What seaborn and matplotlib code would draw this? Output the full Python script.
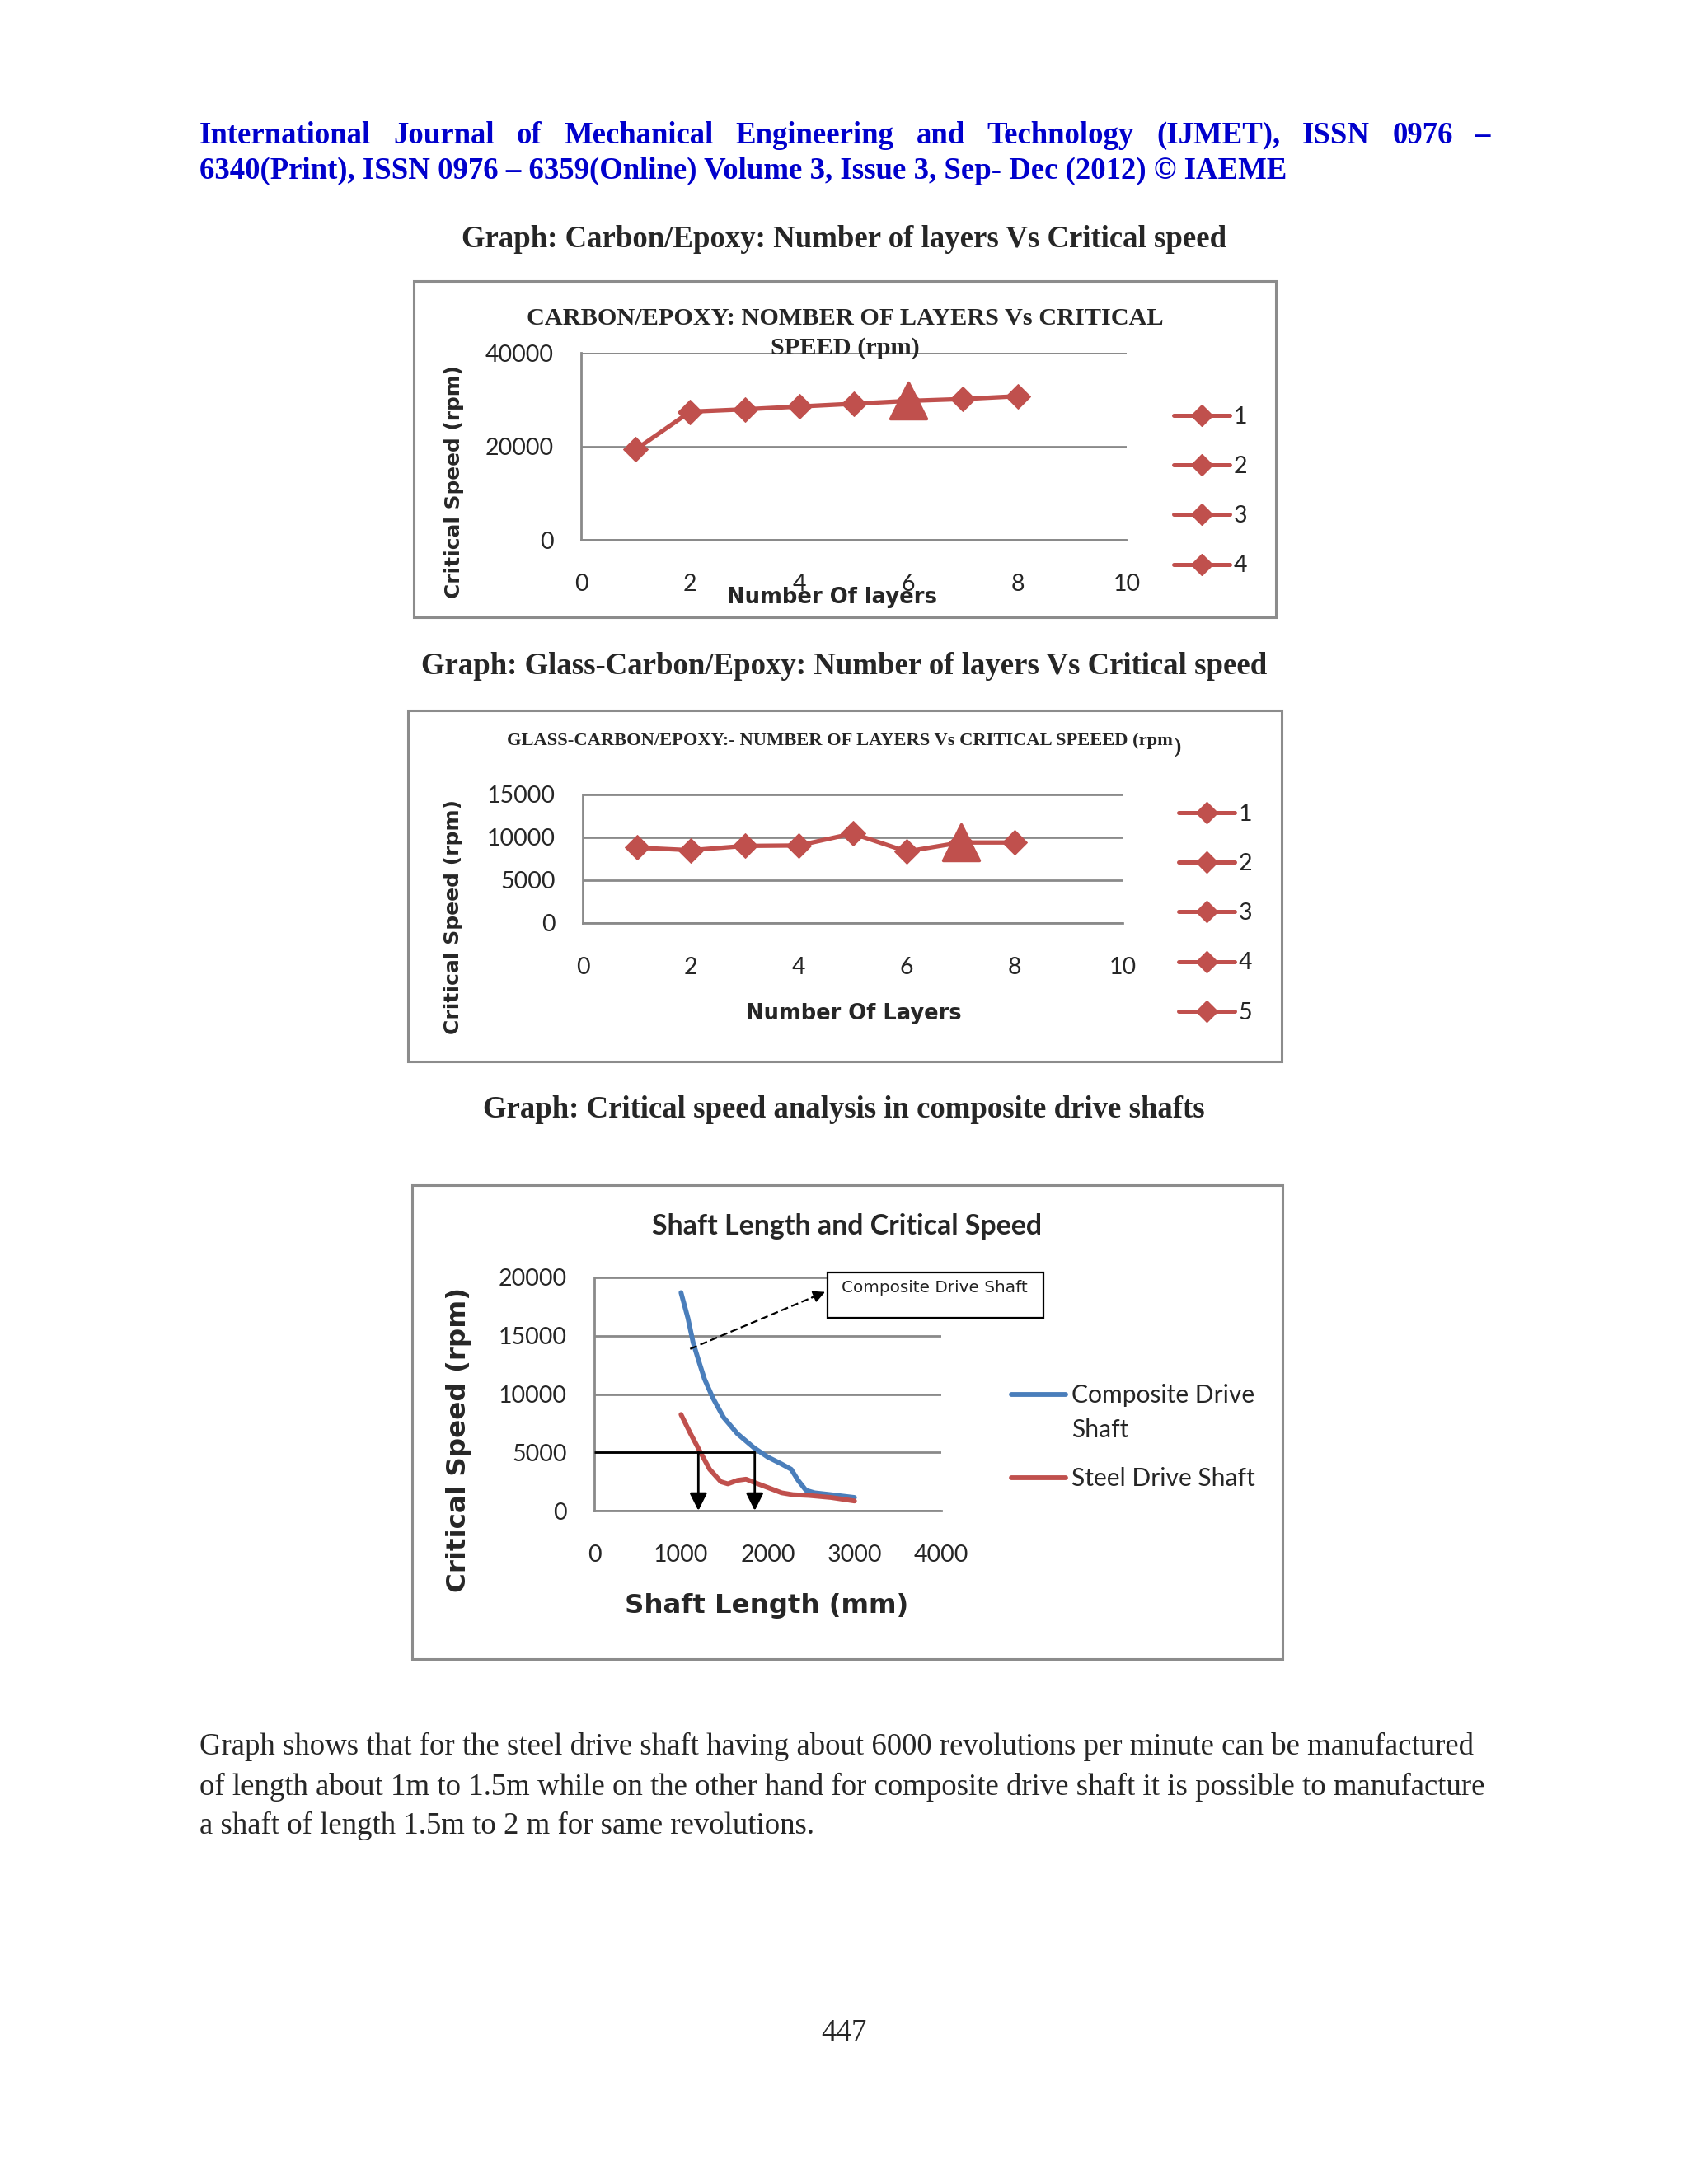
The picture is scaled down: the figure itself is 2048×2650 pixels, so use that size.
import matplotlib.pyplot as plt
import seaborn as sns
from matplotlib.lines import Line2D
from matplotlib.patches import Rectangle

# ---- page text ----
header_line1 = "International Journal of Mechanical Engineering and Technology (IJMET), ISSN 0976 –"
header_line2 = "6340(Print), ISSN 0976 – 6359(Online) Volume 3, Issue 3, Sep- Dec (2012) © IAEME"
caption_1 = "Graph: Carbon/Epoxy: Number of layers Vs Critical speed"
caption_2 = "Graph: Glass-Carbon/Epoxy: Number of layers Vs Critical speed"
caption_3 = "Graph: Critical speed analysis in composite drive shafts"
paragraph = [
    "Graph shows that for the steel drive shaft having about 6000 revolutions per minute can be manufactured",
    "of length about 1m to 1.5m while on the other hand for composite drive shaft it is possible to manufacture",
    "a shaft of length 1.5m to 2 m for same revolutions.",
]
page_number = "447"

# ---- chart 1: carbon/epoxy ----
cf_title = ["CARBON/EPOXY: NOMBER OF LAYERS Vs CRITICAL", "SPEED (rpm)"]
cf_layers = [1, 2, 3, 4, 5, 6, 7, 8]
cf_speed = [19300, 27400, 27900, 28500, 29100, 29700, 30100, 30700]
cf_highlight = 6
cf_legend = ["1", "2", "3", "4"]

# ---- chart 2: glass-carbon/epoxy ----
gc_title = "GLASS-CARBON/EPOXY:- NUMBER OF LAYERS Vs CRITICAL SPEEED (rpm"
gc_layers = [1, 2, 3, 4, 5, 6, 7, 8]
gc_speed = [8800, 8500, 9000, 9050, 10450, 8350, 9400, 9400]
gc_highlight = 7
gc_legend = ["1", "2", "3", "4", "5"]

# ---- chart 3: shaft length vs critical speed ----
comp_length = [1000, 1080, 1140, 1210, 1270, 1365, 1490, 1650, 1840, 2000, 2160, 2270, 2350, 2440, 2540, 2730, 3000]
comp_rpm = [18700, 16500, 14400, 12700, 11300, 9700, 8000, 6600, 5400, 4600, 4000, 3550, 2600, 1750, 1530, 1370, 1130]
steel_length = [1000, 1110, 1210, 1330, 1460, 1540, 1650, 1750, 1870, 2030, 2160, 2290, 2480, 2730, 3000]
steel_rpm = [8250, 6600, 5200, 3550, 2480, 2300, 2600, 2700, 2350, 1900, 1530, 1370, 1300, 1130, 830]
shaft_series = ["Composite Drive\nShaft", "Steel Drive Shaft"]
target_rpm = 5000
target_lengths = [1200, 1850]
callout_text = "Composite Drive Shaft"
callout_from = (1105, 13870)
callout_to = (2660, 18750)

W, H = 2048, 2650
RED = "#c0504d"
BLUE = "#4a7ebb"
GRID = "#8a8a8a"
SERIF = "Liberation Serif"
SANS = "Lato"
BOLD_SANS = "DejaVu Sans"
PAGE_PT = 26.5

sns.set_style("white")
plt.rcParams["font.family"] = [SANS, "DejaVu Sans"]

fig = plt.figure(figsize=(W / 100, H / 100), dpi=100)
fig.patch.set_facecolor("white")


def fxy(x, y):
    return x / W, 1 - y / H


def px_axes(left, top, right, bottom):
    return fig.add_axes([left / W, 1 - bottom / H, (right - left) / W, (bottom - top) / H])


def frame(left, top, right, bottom):
    fig.add_artist(Rectangle(fxy(left, bottom), (right - left) / W, (bottom - top) / H,
                             transform=fig.transFigure, fill=False, ec="#8c8c8c", lw=2.2))


def justified(line, x0, x1, y, **kw):
    words = line.split(" ")
    texts = [fig.text(0, 1 - y / H, w, va="center", ha="left", **kw) for w in words]
    r = fig.canvas.get_renderer()
    widths = [t.get_window_extent(r).width for t in texts]
    gap = (x1 - x0 - sum(widths)) / (len(words) - 1)
    x = x0
    for t, w in zip(texts, widths):
        t.set_x(x / W)
        x += w + gap


def style_axes(ax, xmax, xstep, ymax, ystep):
    ax.set_xlim(0, xmax)
    ax.set_ylim(0, ymax)
    ax.set_xticks(range(0, xmax + 1, xstep))
    ax.set_yticks(range(0, ymax + 1, ystep))
    ax.set_facecolor("none")
    ax.grid(axis="y", color=GRID, lw=2)
    ax.grid(axis="x", visible=False)
    for s in ["top", "right"]:
        ax.spines[s].set_visible(False)
    for s in ["left", "bottom"]:
        ax.spines[s].set_color(GRID)
        ax.spines[s].set_linewidth(2)
    ax.tick_params(axis="x", length=0, labelsize=20.5, pad=29.5)
    ax.tick_params(axis="y", length=0, labelsize=20.5, pad=24)
    ax.set_xlabel("")
    ax.set_ylabel("")


def axis_labels(ax, xlabel, xpos, xsize, ylabel, ypos, ysize):
    ax.set_xlabel(xlabel, fontsize=xsize, fontweight="bold", family=BOLD_SANS, va="center")
    ax.xaxis.set_label_coords(*fxy(*xpos), transform=fig.transFigure)
    ax.set_ylabel(ylabel, fontsize=ysize, fontweight="bold", family=BOLD_SANS, va="center")
    ax.yaxis.set_label_coords(*fxy(*ypos), transform=fig.transFigure)


def layer_legend(ax, labels, x, y_top, spacing):
    handles = [Line2D([], [], color=RED, lw=3.6, marker="D", ms=13) for _ in labels]
    ax.legend(handles, labels, loc="upper left", bbox_to_anchor=fxy(x, y_top),
              bbox_transform=fig.transFigure, frameon=False, fontsize=20.5,
              handlelength=2.4, handletextpad=0.15, labelspacing=spacing,
              borderpad=0, borderaxespad=0)


# ---- page header / captions ----
justified(header_line1, 242, 1808, 165, family=SERIF, fontweight="bold", fontsize=PAGE_PT, color="#0000cc")
fig.text(*fxy(242, 207), header_line2, family=SERIF, fontweight="bold", fontsize=PAGE_PT,
         color="#0000cc", va="center", ha="left")
for cap, y in [(caption_1, 290), (caption_2, 808), (caption_3, 1347)]:
    fig.text(*fxy(1024, y), cap, family=SERIF, fontweight="bold", fontsize=PAGE_PT, va="center", ha="center")

# ---- chart 1 ----
frame(502, 341, 1548, 749)
ax1 = px_axes(705, 428, 1367, 655)
sns.lineplot(x=cf_layers, y=cf_speed, ax=ax1, color=RED, lw=3.8, marker="D", markersize=15,
             markeredgecolor=RED)
i = cf_layers.index(cf_highlight)
sns.scatterplot(x=[cf_layers[i]], y=[cf_speed[i]], ax=ax1, marker="^", s=1000, color=RED,
                edgecolor=RED, zorder=5)
style_axes(ax1, 10, 2, 40000, 20000)
axis_labels(ax1, "Number Of layers", (1009, 725), 18.6, "Critical Speed (rpm)", (551, 584), 17.8)
for line, y in zip(cf_title, [387, 422]):
    fig.text(*fxy(1025, y), line, family=SERIF, fontweight="bold", fontsize=21.8,
             ha="center", va="center")
layer_legend(ax1, cf_legend, 1424, 493, 1.2)

# ---- chart 2 ----
frame(495, 862, 1555, 1288)
ax2 = px_axes(707, 964, 1362, 1120)
sns.lineplot(x=gc_layers, y=gc_speed, ax=ax2, color=RED, lw=3.8, marker="D", markersize=15,
             markeredgecolor=RED)
i = gc_layers.index(gc_highlight)
sns.scatterplot(x=[gc_layers[i]], y=[gc_speed[i]], ax=ax2, marker="^", s=1000, color=RED,
                edgecolor=RED, zorder=5)
style_axes(ax2, 10, 2, 15000, 5000)
axis_labels(ax2, "Number Of Layers", (1036, 1230), 18.5, "Critical Speed (rpm)", (550, 1113), 18)
fig.text(*fxy(1019, 899), gc_title, family=SERIF, fontweight="bold", fontsize=16.2,
         ha="center", va="center")
fig.text(*fxy(1428, 907), ")", family=SERIF, fontweight="bold", fontsize=18, ha="center", va="center")
layer_legend(ax2, gc_legend, 1430, 975, 1.2)

# ---- chart 3 ----
frame(500, 1438, 1556, 2013)
ax3 = px_axes(721, 1550, 1142, 1833)
sns.lineplot(x=comp_length, y=comp_rpm, ax=ax3, sort=False, color=BLUE, lw=4.2)
sns.lineplot(x=steel_length, y=steel_rpm, ax=ax3, sort=False, color=RED, lw=4.2)
style_axes(ax3, 4000, 1000, 20000, 5000)
ax3.hlines(target_rpm, 0, max(target_lengths), color="black", lw=2, zorder=4)
for L in target_lengths:
    ax3.annotate("", xy=(L, 0), xytext=(L, target_rpm),
                 arrowprops=dict(arrowstyle="-|>", color="black", lw=2, mutation_scale=32,
                                 shrinkA=0, shrinkB=0), zorder=4)
# dashed callout arrow
cx0, cy0 = callout_from
cx1, cy1 = callout_to
ax3.plot([cx0, cx0 + 0.93 * (cx1 - cx0)], [cy0, cy0 + 0.93 * (cy1 - cy0)],
         color="black", lw=1.6, ls=(0, (4, 2)), zorder=4)
ax3.annotate("", xy=callout_to, xytext=(cx0 + 0.9 * (cx1 - cx0), cy0 + 0.9 * (cy1 - cy0)),
             arrowprops=dict(arrowstyle="-|>", color="black", lw=1.2, mutation_scale=22,
                             shrinkA=0, shrinkB=0), zorder=4)
fig.add_artist(Rectangle(fxy(1004, 1599), 262 / W, 55 / H, transform=fig.transFigure,
                         fill=True, fc="white", ec="black", lw=1.6))
fig.text(*fxy(1021, 1562), callout_text, family="DejaVu Sans", fontsize=14.4, color="#222222",
         ha="left", va="center")
axis_labels(ax3, "Shaft Length (mm)", (930, 1949), 23.3, "Critical Speed (rpm)", (556, 1747), 23.4)
fig.text(*fxy(1028, 1488), "Shaft Length and Critical Speed", fontweight="bold", fontsize=24.4,
         ha="center", va="center")
# legend, first line of each entry level with its line sample
for name, color, y in zip(shaft_series, [BLUE, RED], [1692, 1793]):
    fig.add_artist(Line2D([1227 / W, 1293 / W], [1 - y / H] * 2, transform=fig.transFigure,
                          color=color, lw=4.2, solid_capstyle="round"))
    fig.text(*fxy(1300, y - 13), name, fontsize=21.6, ha="left", va="top", linespacing=1.6)

# ---- paragraph / page number ----
for line, y in zip(paragraph, [2119, 2168, 2215]):
    fig.text(*fxy(242, y), line, family=SERIF, fontsize=PAGE_PT, va="center", ha="left")
fig.text(*fxy(1024, 2467), page_number, family=SERIF, fontsize=PAGE_PT, va="center", ha="center")

fig.savefig("out.png", dpi=100, facecolor="white")
